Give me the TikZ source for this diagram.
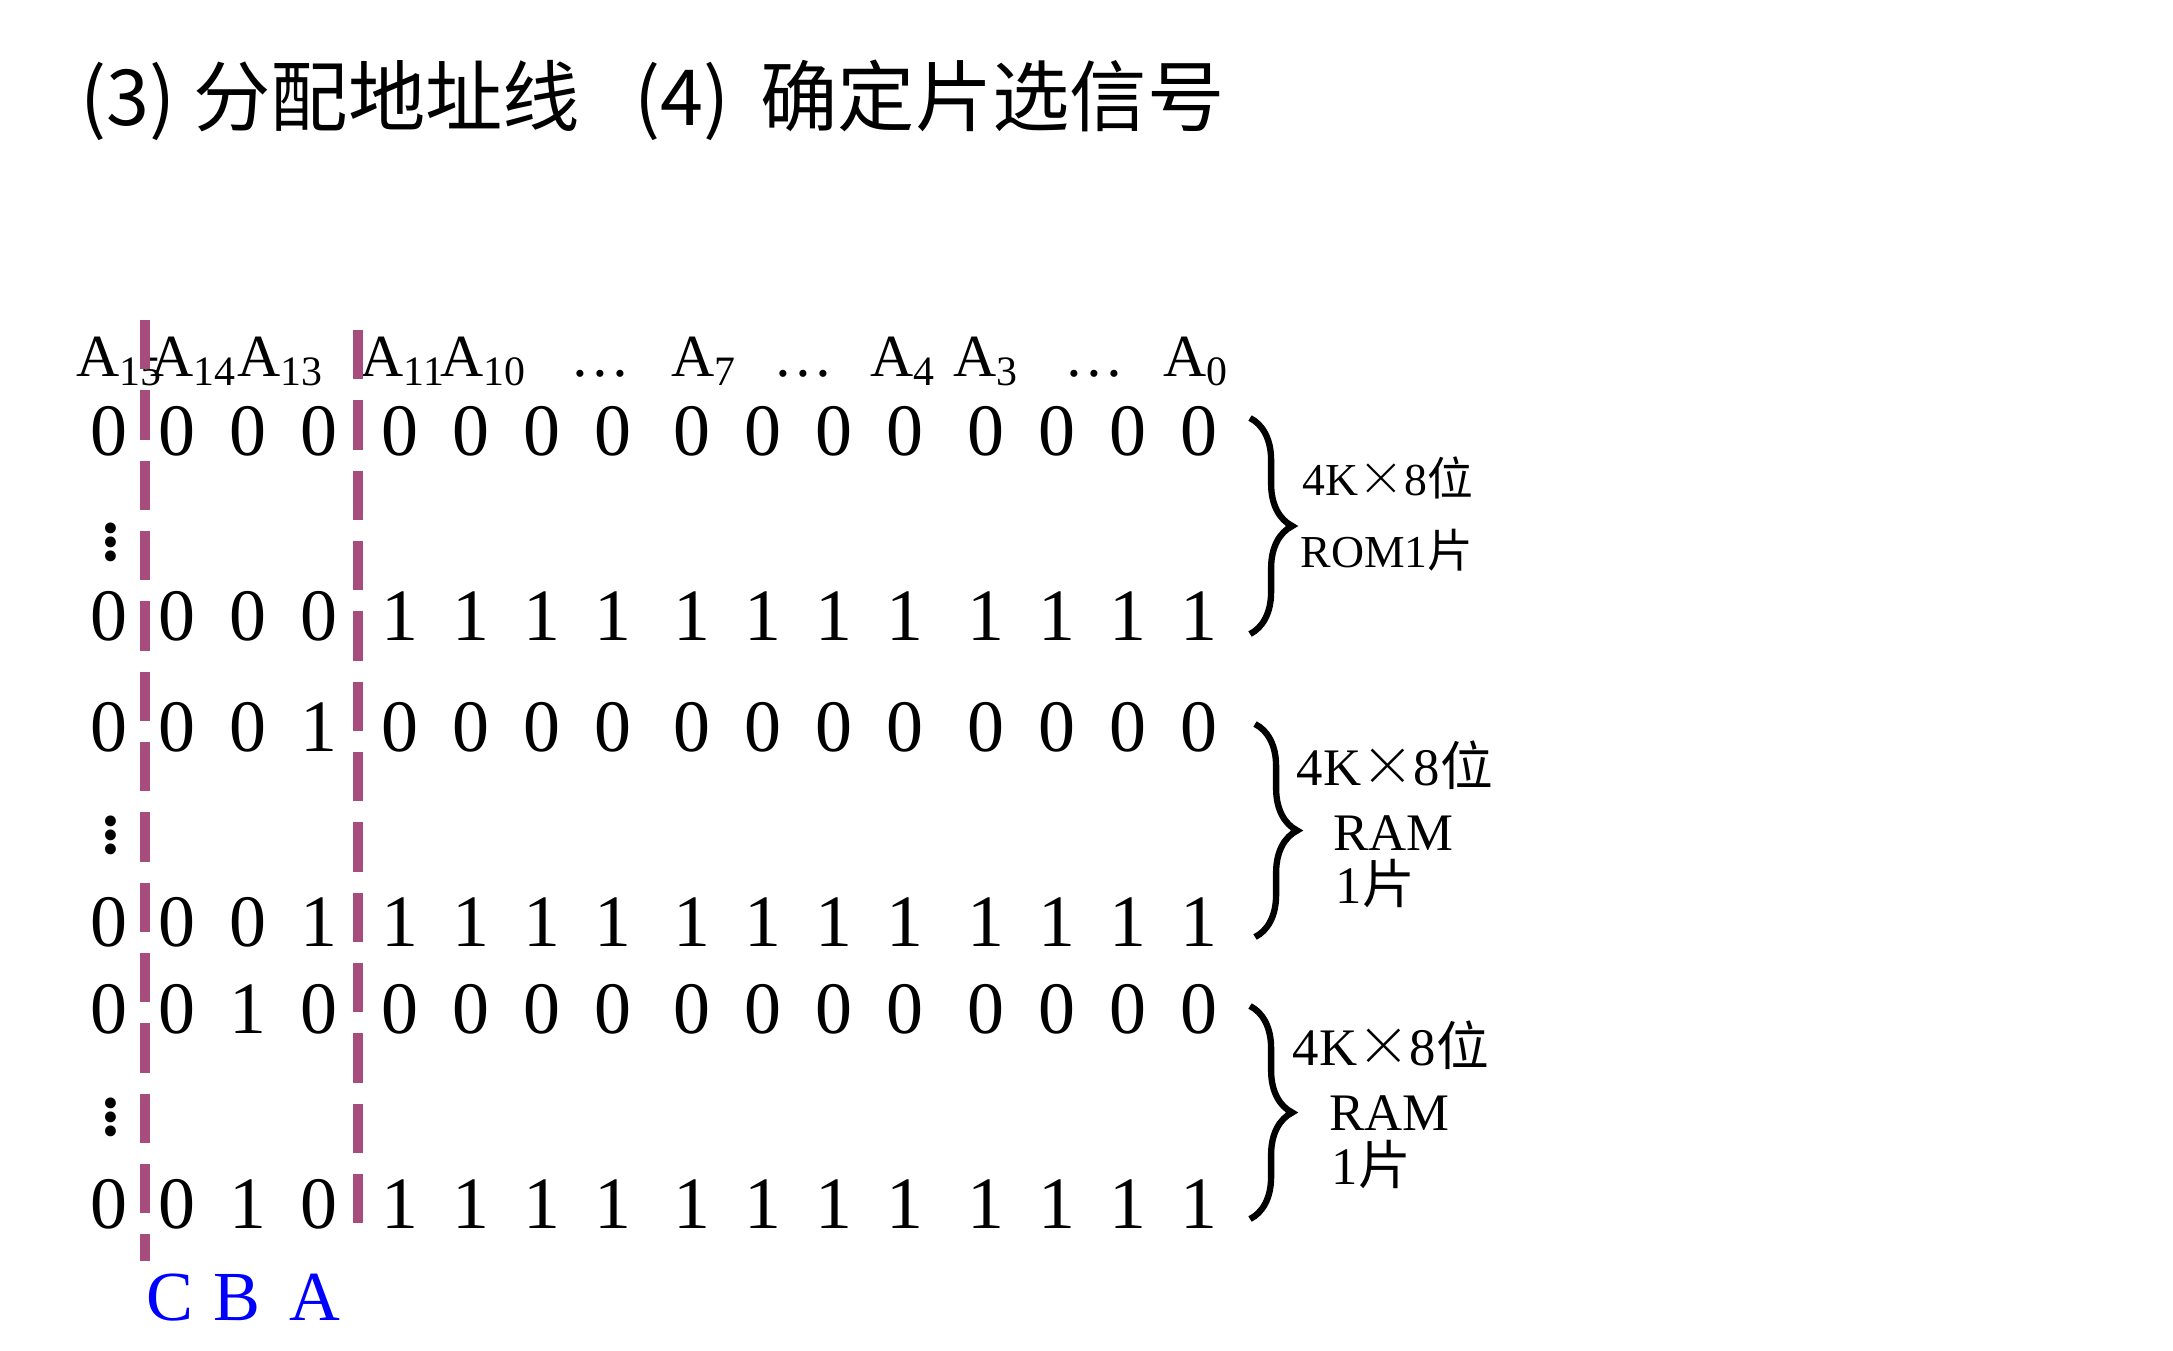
\documentclass[tikz,border=0pt]{standalone}
\usepackage{fontspec}
\setmainfont{Liberation Serif}
\newfontfamily\cjk{Noto Sans CJK SC}
\newfontfamily\cjkl{Noto Sans CJK SC Light}
\usetikzlibrary{decorations.pathreplacing}
\definecolor{dashc}{HTML}{A64D7E}
\tikzset{dig/.style={font=\fontsize{21}{21}\selectfont,anchor=base,inner sep=0pt},
hd/.style={font=\fontsize{17}{17}\selectfont,anchor=base west,inner sep=0pt},
lab/.style={font=\fontsize{13}{13}\selectfont,anchor=base west,inner sep=0pt},
labb/.style={font=\fontsize{15}{15}\selectfont,anchor=base west,inner sep=0pt},
brc/.style={decorate,decoration={brace,amplitude=12pt},line width=1.8pt},
dl/.style={dashc,line width=2.8pt,dash pattern=on 14pt off 6pt}}
\begin{document}
\begin{tikzpicture}[x=0.01cm,y=-0.01cm]
\useasboundingbox (0,0) rectangle (2173,1350);
\node[anchor=base west,inner sep=0pt,font=\cjk\fontsize{22}{22}\selectfont] (title) at (80,125) {(3) 分配地址线\hspace{0.7em}(4)\hspace{0.4em}确定片选信号};
% headers
\node[hd] (h15) at (76,376) {A\textsubscript{15}};
\node[hd] (h14) at (150,376) {A\textsubscript{14}A\textsubscript{13}};
\node[hd] (h11) at (360,376) {A\textsubscript{11}};
\node[hd] (h10) at (440,376) {A\textsubscript{10}};
\node[hd] (d1) at (570,376) {\ldots};
\node[hd] (h7) at (671,376) {A\textsubscript{7}};
\node[hd] (d2) at (773,376) {\ldots};
\node[hd] (h4) at (870,376) {A\textsubscript{4}};
\node[hd] (h3) at (953,376) {A\textsubscript{3}};
\node[hd] (d3) at (1064,376) {\ldots};
\node[hd] (h0) at (1163,376) {A\textsubscript{0}};
% rows
\def\cols{109,177,248,319,400,471,542,613,692,763,834,905,986,1057,1128,1199}
\foreach \y/\p/\q/\c in {455/0/0/0,640/0/0/1,751/0/1/0,946/0/1/1,1033/1/0/0,1228/1/0/1}{
 \foreach \x [count=\i] in \cols {
   \ifnum\i<3 \def\v{0}\else\ifnum\i=3 \let\v\p\else\ifnum\i=4 \let\v\q\else\let\v\c\fi\fi\fi
   \node[dig] (n\y c\i) at (\x,\y) {\v};}}
\foreach \y in {532,825,1107}{\node[anchor=center,inner sep=0pt,font=\fontsize{26}{26}\selectfont] (v\y) at (111,\y) {\vdots};}
% dashed lines
\coordinate (t1) at (145,320); \coordinate (b1) at (145,1261);
\coordinate (t2) at (358,330); \coordinate (b2) at (358,1241);
\draw[dl] (t1) -- (b1);
\draw[dl] (t2) -- (b2);
% braces
\coordinate (a1) at (1250,418); \coordinate (a2) at (1250,634);
\coordinate (a3) at (1255,724); \coordinate (a4) at (1255,937);
\coordinate (a5) at (1250,1006); \coordinate (a6) at (1250,1219);
\draw[brc] (a1) -- (a2);
\draw[brc] (a3) -- (a4);
\draw[brc] (a5) -- (a6);
\node[lab] (l1) at (1302,495) {4K{\cjkl ×}8\cjk 位};
\node[lab] (l2) at (1300,567) {ROM1\cjk 片};
\node[labb] (l3) at (1296,785) {4K{\cjkl ×}8\cjk 位};
\node[labb] (l4) at (1333,850) {RAM};
\node[labb] (l5) at (1335,903) {1\cjk 片};
\node[labb] (l6) at (1292,1065) {4K{\cjkl ×}8\cjk 位};
\node[labb] (l7) at (1329,1130) {RAM};
\node[labb] (l8) at (1331,1184) {1\cjk 片};
% CBA
\node[dig,text=blue,font=\fontsize{20}{20}\selectfont] (C) at (170,1320) {C};
\node[dig,text=blue,font=\fontsize{20}{20}\selectfont] (B) at (237,1320) {B};
\node[dig,text=blue,font=\fontsize{20}{20}\selectfont] (A) at (315,1320) {A};
\end{tikzpicture}
\end{document}
